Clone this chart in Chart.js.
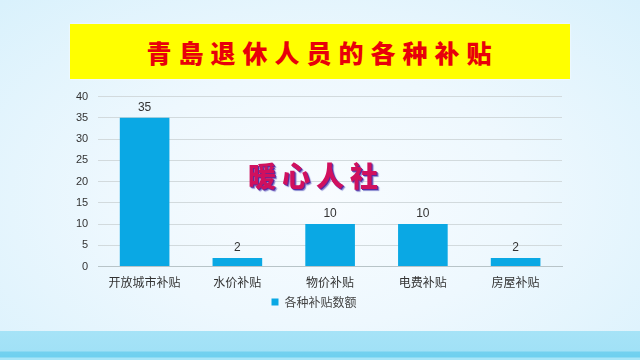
<!DOCTYPE html>
<html><head><meta charset="utf-8">
<script src="https://cdn.jsdelivr.net/npm/chart.js@4"></script>
<style>
html,body{margin:0;padding:0;width:640px;height:360px;overflow:hidden;}
body{position:relative;background:radial-gradient(ellipse at 50% 55%, #f8fcff 0%, #eef8fe 45%, #d9f1fc 100%);font-family:"Noto Sans CJK SC",sans-serif;}
#title{position:absolute;left:70px;top:24px;width:500px;height:55px;background:#ffff00;box-shadow:0 0 2px #fff;display:flex;align-items:center;justify-content:center;color:#e8000a;font-weight:900;font-size:25px;letter-spacing:7px;padding-left:5px;box-sizing:border-box;}
#stripe{position:absolute;left:0;top:331px;width:640px;height:29px;background:linear-gradient(#a6e3f7 0px,#a1e1f6 20px,#72d1ef 21px,#6ed0ef 26px,#a8e6f8 27px);}
#wrap{position:absolute;left:60px;top:80px;width:526px;height:238px;}
#mark{position:absolute;left:248px;top:155px;font-size:28px;font-weight:900;color:#d0105e;letter-spacing:6px;text-shadow:1px 1px 0 #5a2aa0,2px 2px 1px #8a8ad0;}
</style></head>
<body>
<div id="title">青島退休人员的各种补贴</div>
<div id="wrap"><canvas id="c"></canvas></div>
<div id="mark">暖心人社</div>
<div id="stripe"></div>
<script>
const categories = ["开放城市补贴","水价补贴","物价补贴","电费补贴","房屋补贴"];
const values = [35, 2, 10, 10, 2];
const seriesName = "各种补贴数额";
const yTicks = [0,5,10,15,20,25,30,35,40];

const valueLabels = {
  id:'valueLabels',
  afterDatasetsDraw(chart){
    const ctx = chart.ctx;
    const meta = chart.getDatasetMeta(0);
    ctx.save();
    ctx.font = '12px "Liberation Sans", Arial, sans-serif';
    ctx.fillStyle = '#333';
    ctx.textAlign = 'center';
    ctx.textBaseline = 'bottom';
    meta.data.forEach((bar,i)=>{
      ctx.fillText(String(chart.data.datasets[0].data[i]), bar.x, bar.y - 4);
    });
    ctx.restore();
  }
};

new Chart(document.getElementById('c'),{
  type:'bar',
  data:{labels:categories,datasets:[{label:seriesName,data:values,backgroundColor:'#0aa8e4',categoryPercentage:0.535,barPercentage:1}]},
  options:{
    responsive:true,maintainAspectRatio:false,animation:false,
    layout:{padding:{top:4,right:24,left:6,bottom:0}},
    plugins:{
      legend:{position:'bottom',labels:{usePointStyle:true,pointStyle:'rect',boxWidth:7,boxHeight:7,color:'#444',font:{size:12,family:'"Noto Sans CJK SC"'},padding:2}},
      tooltip:{enabled:false}
    },
    scales:{
      x:{grid:{display:false,drawTicks:false},border:{color:'#b8c4c8'},ticks:{color:'#333',font:{size:12,family:'"Noto Sans CJK SC"'},padding:9},
         afterFit(s){s.height -= 5;}},
      y:{min:0,max:40,afterBuildTicks(ax){ax.ticks=yTicks.map(v=>({value:v}));},
         grid:{color:'#d2dadd',drawTicks:false},border:{display:false},
         ticks:{color:'#333',font:{size:11,family:'"Liberation Sans", Arial'},padding:10}}
    }
  },
  plugins:[valueLabels]
});
</script>
</body></html>
